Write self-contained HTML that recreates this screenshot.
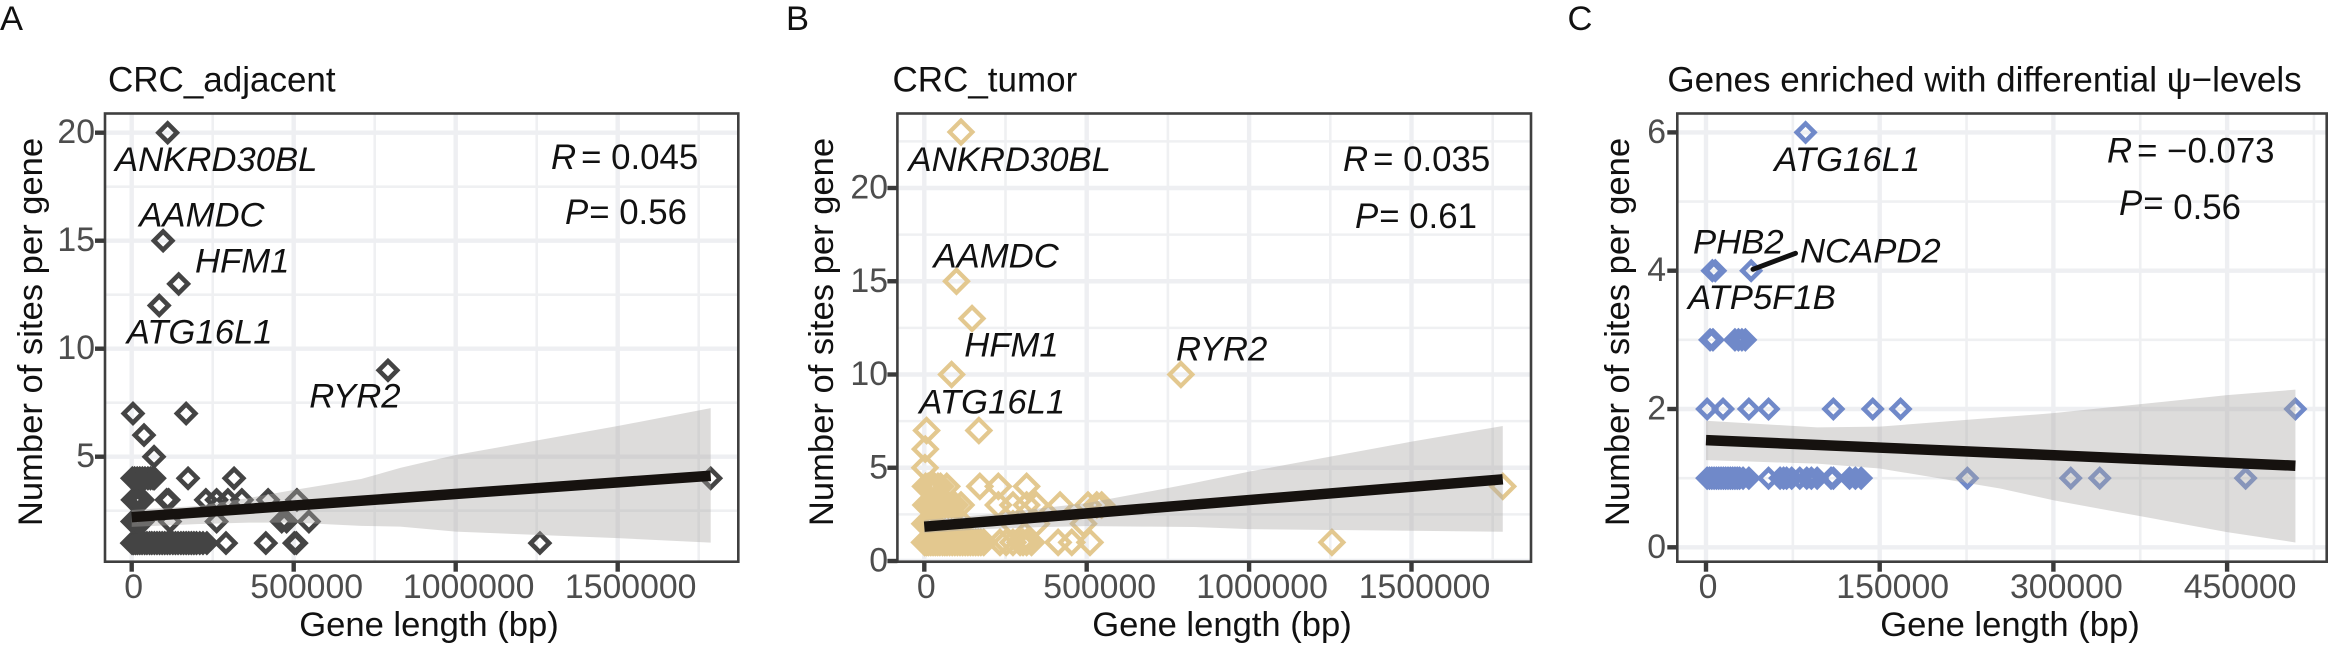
<!DOCTYPE html>
<html lang="en">
<head>
<meta charset="utf-8">
<title>Sites per gene versus gene length</title>
<style>
html,body{margin:0;padding:0;background:#fff;}
svg{display:block;font-family:"Liberation Sans",sans-serif;}
.ann{font-size:34.7px;font-style:italic;fill:#111;}
.ttl{font-size:35px;fill:#111;}
.axt{font-size:34.6px;fill:#111;}
.let{font-size:34.5px;fill:#111;}
.stat{font-size:34.8px;fill:#111;}
.stat .i{font-style:italic;}
</style>
</head>
<body>
<svg id="fig" xmlns="http://www.w3.org/2000/svg" width="2330" height="649" viewBox="0 0 2330 649">
<rect x="0" y="0" width="2330" height="649" fill="#fff"/>
<g id="layer-a"></g>
<g id="layer-b"></g>
<g id="layer-c"></g>

<text class="let" x="0" y="30">A</text>
<text class="ttl" x="108" y="91.5">CRC_adjacent</text>
<text class="axt" x="429" y="636" text-anchor="middle">Gene length (bp)</text>
<text class="axt" transform="translate(42,332) rotate(-90)" text-anchor="middle">Number of sites per gene</text>
<text class="ann" x="115" y="171">ANKRD30BL</text>
<text class="ann" x="139.3" y="226.7">AAMDC</text>
<text class="ann" x="195" y="272.7">HFM1</text>
<text class="ann" x="126.7" y="343.3">ATG16L1</text>
<text class="ann" x="309.3" y="407.7">RYR2</text>
<text class="stat" x="551" y="169"><tspan class="i">R</tspan><tspan dx="5">= 0.045</tspan></text>
<text class="stat" x="565" y="224"><tspan class="i">P</tspan><tspan dx="1">= 0.56</tspan></text>

<text class="let" x="786" y="30">B</text>
<text class="ttl" x="892.5" y="91.5">CRC_tumor</text>
<text class="axt" x="1222" y="636" text-anchor="middle">Gene length (bp)</text>
<text class="axt" transform="translate(833,332) rotate(-90)" text-anchor="middle">Number of sites per gene</text>
<text class="ann" x="908.5" y="171">ANKRD30BL</text>
<text class="ann" x="933.5" y="267.7">AAMDC</text>
<text class="ann" x="964.3" y="356.7">HFM1</text>
<text class="ann" x="919.3" y="413.3">ATG16L1</text>
<text class="ann" x="1176" y="360.7">RYR2</text>
<text class="stat" x="1343" y="171"><tspan class="i">R</tspan><tspan dx="5">= 0.035</tspan></text>
<text class="stat" x="1355" y="228"><tspan class="i">P</tspan><tspan dx="1">= 0.61</tspan></text>

<text class="let" x="1567.5" y="30">C</text>
<text class="ttl" x="1667.4" y="91.5">Genes enriched with differential ψ−levels</text>
<text class="axt" x="2010" y="636" text-anchor="middle">Gene length (bp)</text>
<text class="axt" transform="translate(1629,332) rotate(-90)" text-anchor="middle">Number of sites per gene</text>
<text class="ann" x="1774.3" y="171">ATG16L1</text>
<text class="ann" x="1693" y="253.3">PHB2</text>
<text class="ann" x="1800" y="262.3">NCAPD2</text>
<text class="ann" x="1688" y="309">ATP5F1B</text>
<line x1="1753" y1="269.3" x2="1795.5" y2="253.3" stroke="#111" stroke-width="5" stroke-linecap="round"/>
<text class="stat" x="2107" y="162.3"><tspan class="i">R</tspan><tspan dx="5">= −0.073</tspan></text>
<text class="stat" x="2119" y="215"><tspan class="i">P</tspan><tspan dx="1">=</tspan><tspan dy="4"> 0.56</tspan></text>
</svg>

<script>
// Panel A: gene length (bp) and number of sites per gene
const panelALengths = [
  1000,6000,12000,18000,25000,32000,40000,47000,55000,62000,70000,78000,86000,94000,102000,110000,118000,127000,135000,143000,152000,160000,168000,176000,184000,192000,200000,210000,220000,232000,291000,414000,502000,508000,1260000,
  2000,8000,15000,24000,34000,118000,463000,478000,547000,262000,
  3000,10000,18000,26000,34000,108000,114000,229000,262000,297000,340000,421000,510000,
  2000,9000,17000,25000,33000,41000,50000,58000,66000,70000,174000,316000,1787000,
  69000,38000,4000,168000,791000,85000,145000,97000,111000
];
const panelASites = [
  1,1,1,1,1,1,1,1,1,1,1,1,1,1,1,1,1,1,1,1,1,1,1,1,1,1,1,1,1,1,1,1,1,1,1,
  2,2,2,2,2,2,2,2,2,2,
  3,3,3,3,3,3,3,3,3,3,3,3,3,
  4,4,4,4,4,4,4,4,4,4,4,4,4,
  5,6,7,7,9,12,13,15,20
];
const panelATicksX = [0,500000,1000000,1500000];
const panelAMinorX = [250000,750000,1250000,1750000];
const panelATicksY = [5,10,15,20];
const panelAMinorY = [2.5,7.5,12.5,17.5];
const panelAFitX = [0,1787000];
const panelAFitY = [2.2,4.12];
const panelABandX = [0,200000,361000,500000,708000,829000,1000000,1500000,1787000];
const panelABandUpper = [2.53,2.72,3.09,3.46,3.97,4.48,5.08,6.42,7.25];
const panelABandLower = [1.75,1.88,1.95,1.95,1.8,1.76,1.53,1.23,1.02];

// Panel B
const panelBLengths = [
  1000,7000,13000,20000,27000,34000,41000,48000,56000,63000,70000,78000,86000,94000,102000,110000,118000,126000,134000,142000,150000,158000,166000,174000,183000,233000,252000,273000,295000,304000,315000,330000,412000,454000,510000,1255000,
  2000,8000,16000,24000,32000,118000,273000,345000,490000,
  5000,14000,24000,34000,44000,54000,64000,74000,84000,94000,113000,228000,273000,315000,345000,418000,504000,531000,546000,
  4000,12000,22000,32000,42000,50000,69000,171000,228000,315000,1781000,
  2000,3000,7000,168000,84000,790000,147000,99000,113000
];
const panelBSites = [
  1,1,1,1,1,1,1,1,1,1,1,1,1,1,1,1,1,1,1,1,1,1,1,1,1,1,1,1,1,1,1,1,1,1,1,1,
  2,2,2,2,2,2,2,2,2,
  3,3,3,3,3,3,3,3,3,3,3,3,3,3,3,3,3,3,3,
  4,4,4,4,4,4,4,4,4,4,4,
  5,6,7,7,10,10,13,15,23
];
const panelBTicksX = [0,500000,1000000,1500000];
const panelBMinorX = [250000,750000,1250000,1750000];
const panelBTicksY = [0,5,10,15,20];
const panelBMinorY = [2.5,7.5,12.5,17.5,22.5];
const panelBFitX = [0,1781000];
const panelBFitY = [1.84,4.38];
const panelBBandX = [0,200000,366000,500000,700000,830000,1000000,1500000,1781000];
const panelBBandUpper = [2.2,2.5,2.84,3.1,3.75,4.18,4.79,6.4,7.24];
const panelBBandLower = [1.5,1.72,1.82,1.87,1.84,1.82,1.71,1.62,1.57];

// Panel C
const panelCLengths = [
  1000,3000,5000,7000,9000,11000,13000,15000,17000,19000,21000,23000,25000,27000,29000,32000,37000,54000,64000,67000,69600,74000,81000,87000,91000,96000,108000,110000,124000,129000,134000,225700,315000,340000,466000,
  1000,14700,37000,54000,110000,144000,168000,509000,
  3500,6000,25000,28000,31000,34000,
  5500,8000,39000,
  86000
];
const panelCSites = [
  1,1,1,1,1,1,1,1,1,1,1,1,1,1,1,1,1,1,1,1,1,1,1,1,1,1,1,1,1,1,1,1,1,1,1,
  2,2,2,2,2,2,2,2,
  3,3,3,3,3,3,
  4,4,4,
  6
];
const panelCTicksX = [0,150000,300000,450000];
const panelCMinorX = [75000,225000,375000,525000];
const panelCTicksY = [0,2,4,6];
const panelCMinorY = [1,3,5];
const panelCFitX = [0,509000];
const panelCFitY = [1.55,1.18];
const panelCBandX = [0,96000,150000,254000,300000,450000,509000];
const panelCBandUpper = [1.83,1.735,1.745,1.88,1.94,2.2,2.28];
const panelCBandLower = [1.26,1.21,1.14,0.85,0.68,0.22,0.07];

const SVGNS = 'http://www.w3.org/2000/svg';
function make(tag, parent, attrs) {
  const node = document.createElementNS(SVGNS, tag);
  Object.keys(attrs).forEach(function (k) { node.setAttribute(k, attrs[k]); });
  parent.appendChild(node);
  return node;
}

function drawPanel(opts) {
  const g = document.getElementById(opts.layer);
  const sx = function (v) { return opts.x0 + v * opts.xk; };
  const sy = function (v) { return opts.y0 - v * opts.yk; };
  const L = opts.left, R = opts.right, T = 113.5, B = 561.7;

  opts.minorY.forEach(function (v) {
    const line = make('line', g, {x1: L, x2: R, y1: sy(v), y2: sy(v), stroke: '#eff0f2', 'stroke-width': 2.6});
    
    
  });
  opts.minorX.forEach(function (v) {
    const line = make('line', g, {x1: sx(v), x2: sx(v), y1: T, y2: B, stroke: '#eff0f2', 'stroke-width': 2.6});
    
    
  });
  opts.ticksY.forEach(function (v) {
    const line = make('line', g, {x1: L, x2: R, y1: sy(v), y2: sy(v), stroke: '#eeeff2', 'stroke-width': 4.4});
    
    
  });
  opts.ticksX.forEach(function (v) {
    const line = make('line', g, {x1: sx(v), x2: sx(v), y1: T, y2: B, stroke: '#eeeff2', 'stroke-width': 4.4});
    
    
  });

  opts.lengths.forEach(function (len, i) {
    const cx = sx(len), cy = sy(opts.sites[i]), r = opts.r;
    const pts = [[cx, cy - r], [cx + r, cy], [cx, cy + r], [cx - r, cy]].map(function (p) { return p.join(','); }).join(' ');
    const point = make('polygon', g, {points: pts, fill: 'none', stroke: opts.color, 'stroke-width': opts.sw, 'stroke-linejoin': 'miter'});
    
    
  });

  const up = opts.bandX.map(function (v, i) { return sx(v) + ',' + sy(opts.bandUpper[i]); });
  const low = opts.bandX.map(function (v, i) { return sx(v) + ',' + sy(opts.bandLower[i]); }).reverse();
  const band = make('polygon', g, {points: up.concat(low).join(' '), fill: 'rgb(170,168,166)', 'fill-opacity': 0.4});
  
  

  const fit = make('line', g, {x1: sx(opts.fitX[0]), y1: sy(opts.fitY[0]), x2: sx(opts.fitX[1]), y2: sy(opts.fitY[1]), stroke: '#16120f', 'stroke-width': 10.5});
  
  

  const frame = make('rect', g, {x: L, y: T, width: R - L, height: B - T, fill: 'none', stroke: '#3f3f3f', 'stroke-width': 2.6});
  
  

  opts.ticksX.forEach(function (v) {
    const tick = make('line', g, {x1: sx(v), x2: sx(v), y1: B, y2: B + 10, stroke: '#3a3a3a', 'stroke-width': 4.4});
    
    
    const label = make('text', g, {x: sx(v) + (v === 0 ? 2 : 13), y: 598, 'text-anchor': 'middle', 'font-size': 33.8, fill: '#4d4d4d'});
    label.textContent = String(v);
    
    
  });
  opts.ticksY.forEach(function (v) {
    const tick = make('line', g, {x1: L - 10, x2: L, y1: sy(v), y2: sy(v), stroke: '#3a3a3a', 'stroke-width': 4.4});
    
    
    const label = make('text', g, {x: opts.yLabelX, y: sy(v) + 10.5, 'text-anchor': 'end', 'font-size': 33.8, fill: '#4d4d4d'});
    label.textContent = String(v);
    
    
  });
}

drawPanel({
  layer: 'layer-a', left: 105, right: 738.3, x0: 131.7, xk: 162 / 500000, y0: 564.7, yk: 21.6, yLabelX: 95,
  color: '#444444', r: 9.2, sw: 4.6,
  lengths: panelALengths, sites: panelASites, ticksX: panelATicksX, minorX: panelAMinorX, ticksY: panelATicksY, minorY: panelAMinorY,
  fitX: panelAFitX, fitY: panelAFitY, bandX: panelABandX, bandUpper: panelABandUpper, bandLower: panelABandLower
});
drawPanel({
  layer: 'layer-b', left: 897.4, right: 1531, x0: 924.3, xk: 162.4 / 500000, y0: 561, yk: 18.65, yLabelX: 888,
  color: '#e3c88f', r: 11.4, sw: 4.2,
  lengths: panelBLengths, sites: panelBSites, ticksX: panelBTicksX, minorX: panelBMinorX, ticksY: panelBTicksY, minorY: panelBMinorY,
  fitX: panelBFitX, fitY: panelBFitY, bandX: panelBBandX, bandUpper: panelBBandUpper, bandLower: panelBBandLower
});
drawPanel({
  layer: 'layer-c', left: 1677.3, right: 2326.7, x0: 1706, xk: 173.7 / 150000, y0: 547.3, yk: 69.15, yLabelX: 1666,
  color: '#7089c9', r: 8.8, sw: 4.6,
  lengths: panelCLengths, sites: panelCSites, ticksX: panelCTicksX, minorX: panelCMinorX, ticksY: panelCTicksY, minorY: panelCMinorY,
  fitX: panelCFitX, fitY: panelCFitY, bandX: panelCBandX, bandUpper: panelCBandUpper, bandLower: panelCBandLower
});
</script>
</body>
</html>
